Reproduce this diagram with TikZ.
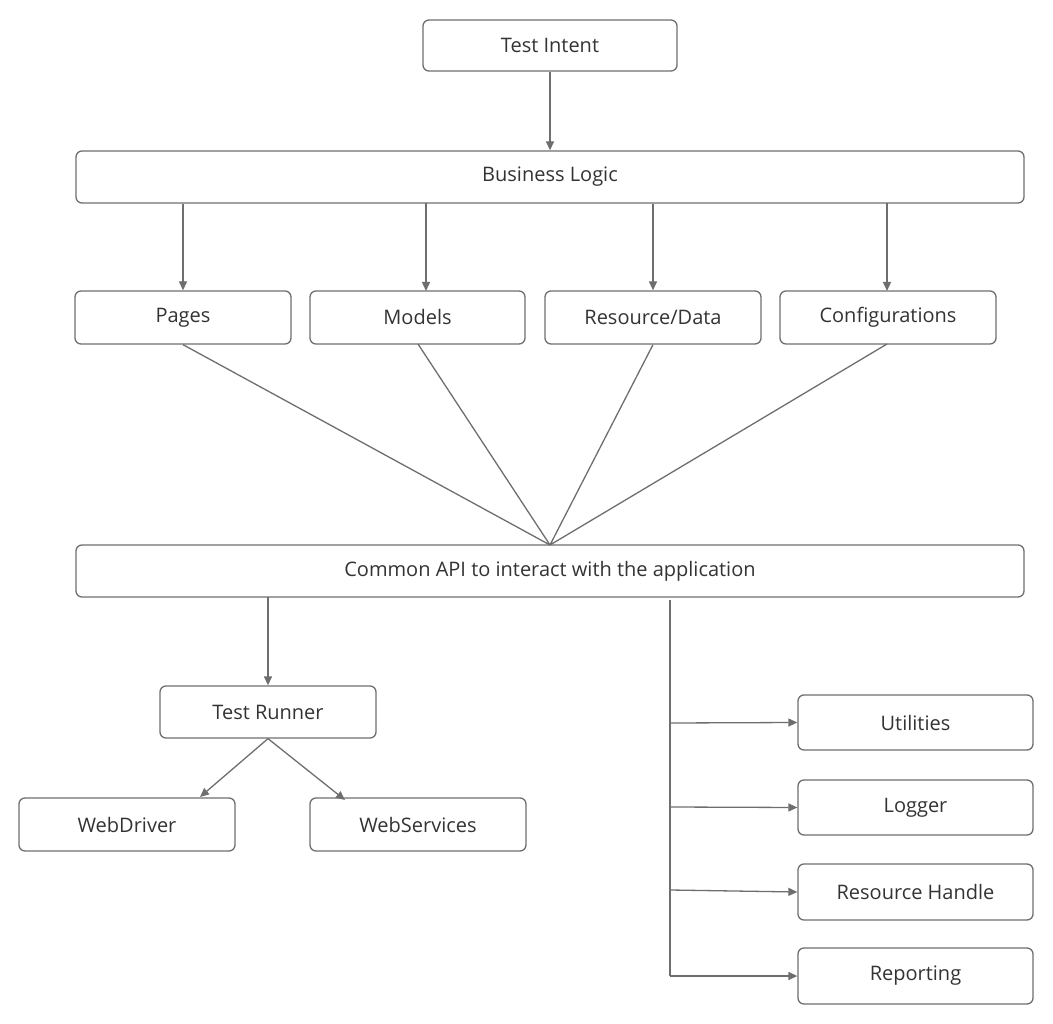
\documentclass[tikz,border=0pt]{standalone}
\usepackage{fontspec}
\setmainfont{Open Sans}
\usetikzlibrary{arrows.meta}
\definecolor{ln}{HTML}{6E6E6E}
\definecolor{tx}{HTML}{333333}
\begin{document}
\begin{tikzpicture}[x=1pt,y=-1pt,
 box/.style={draw=ln,line width=1.3pt,rounded corners=6pt,text=tx,font=\fontsize{20}{24}\selectfont,inner sep=0pt},
 arr/.style={draw=ln,line width=1.3pt,-{Triangle[length=9pt,width=8pt]}},
 ln/.style={draw=ln,line width=1.3pt}]
\useasboundingbox (0,0) rectangle (1053,1024);
\newcommand\bx[6]{\node[box,minimum width=#4-#3,minimum height=#6-#5] (#1) at ({(#3+#4)/2},{(#5+#6)/2}) {#2};}
\bx{ti}{Test Intent}{423}{677}{20}{71}
\bx{bl}{Business Logic}{76}{1024}{151}{203}
\bx{pg}{Pages}{75}{291}{291}{344}
\bx{md}{Models}{310}{525}{291}{344}
\bx{rd}{Resource/Data}{545}{761}{291}{344}
\bx{cf}{Configurations}{780}{996}{291}{344}
\bx{api}{Common API to interact with the application}{76}{1024}{545}{597}
\bx{tr}{Test Runner}{160}{376}{686}{738}
\bx{wd}{WebDriver}{19}{235}{798}{851}
\bx{ws}{WebServices}{310}{526}{798}{851}
\bx{ut}{Utilities}{798}{1033}{695}{750}
\bx{lg}{Logger}{798}{1033}{780}{835}
\bx{rh}{Resource Handle}{798}{1033}{864}{920}
\bx{rp}{Reporting}{798}{1033}{948}{1004}
\draw[arr] (ti.south) -- (bl.north);
\draw[arr] (bl.south -| pg) -- (pg.north);
\draw[arr] (426,203) -- (426,291);
\draw[arr] (bl.south -| rd) -- (rd.north);
\draw[arr] (887,203) -- (887,291);
\coordinate (m) at (550,545);
\draw[ln] (pg.south) -- (m) (418,344) -- (m) (rd.south) -- (m) (887,344) -- (m);
\draw[arr] (268,597) -- (tr.north);
\draw[arr] (tr.south) -- (200,797);
\draw[arr] (tr.south) -- (345,800);
\coordinate (v) at (670,600);
\draw[ln] (v) -- (670,976);
\draw[arr] (670,723) -- (ut.west);
\draw[arr] (670,807) -- (lg.west);
\draw[arr] (670,890) -- (rh.west);
\draw[arr] (670,976) -- (rp.west);
\end{tikzpicture}
\end{document}
